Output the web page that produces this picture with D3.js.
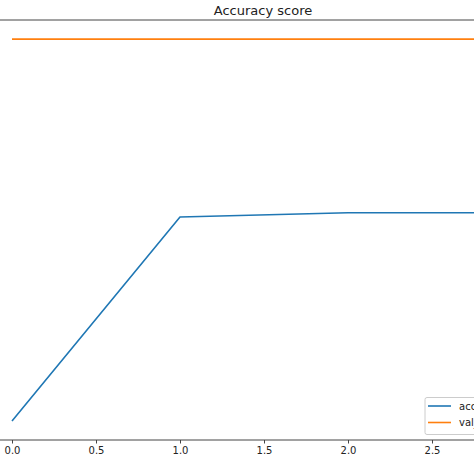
<!DOCTYPE html>
<html><head><meta charset="utf-8">
<script src="https://cdn.jsdelivr.net/npm/d3@7"></script>
<style>body{margin:0;background:#fff}svg{display:block}text{font-family:"DejaVu Sans",sans-serif}</style>
</head><body>
<script>
const epochs = [0, 1, 2, 3];
const accuracy = [0.5, 0.7136, 0.718, 0.718];
const valAccuracy = [0.9, 0.9, 0.9, 0.9];
const xTicks = [0, 0.5, 1.0, 1.5, 2.0, 2.5];
const seriesNames = ["accuracy", "val_accuracy"];
const colors = ["#1f77b4", "#ff7f0e"];
const title = "Accuracy score";

(function () {
const W = 474, H = 474;
const svg = d3.select("body").append("svg").attr("width", W).attr("height", H);
const plotTop = 20, plotBottom = 440;

const x = d3.scaleLinear().domain([0, 3]).range([12, 516]);
const all = accuracy.concat(valAccuracy);
const yMin = d3.min(all), yMax = d3.max(all);
const r = yMax - yMin;
const y = d3.scaleLinear().domain([yMin - 0.05 * r, yMax + 0.05 * r]).range([plotBottom, plotTop]);

const line = d3.line().x((d, i) => x(epochs[i])).y(d => y(d));
[accuracy, valAccuracy].forEach((s, k) => {
  svg.append("path").datum(s).attr("d", line).attr("fill", "none")
    .attr("stroke", colors[k]).attr("stroke-width", 1.6).attr("stroke-linejoin", "round");
});

svg.append("line").attr("x1", 0).attr("x2", W).attr("y1", plotTop).attr("y2", plotTop).attr("stroke", "#444").attr("stroke-width", 1);
svg.append("line").attr("x1", 0).attr("x2", W).attr("y1", plotBottom).attr("y2", plotBottom).attr("stroke", "#444").attr("stroke-width", 1);

const ax = svg.append("g").attr("transform", `translate(0,${plotBottom})`)
  .call(d3.axisBottom(x).tickValues(xTicks).tickFormat(d3.format(".1f")).tickSize(3.5).tickPadding(3.5));
ax.select(".domain").remove();
ax.selectAll(".tick line").attr("stroke", "#444");
ax.selectAll("text").attr("font-size", "10px").attr("fill", "#222").attr("font-family", "DejaVu Sans");

svg.append("text").attr("x", 263).attr("y", 14.5).attr("text-anchor", "middle")
  .attr("font-size", "13px").attr("fill", "#222").text(title);

const lg = svg.append("g");
lg.append("rect").attr("x", 425).attr("y", 397.5).attr("width", 120).attr("height", 37).attr("rx", 2)
  .attr("fill", "#fff").attr("fill-opacity", 0.8).attr("stroke", "#ccc").attr("stroke-width", 1);
seriesNames.forEach((n, k) => {
  const yy = 406 + k * 16.5;
  lg.append("line").attr("x1", 428).attr("x2", 451).attr("y1", yy).attr("y2", yy)
    .attr("stroke", colors[k]).attr("stroke-width", 1.6);
  lg.append("text").attr("x", 459).attr("y", yy + 3.6).attr("font-size", "10px").attr("fill", "#222").text(n);
});
})();
</script>
</body></html>
